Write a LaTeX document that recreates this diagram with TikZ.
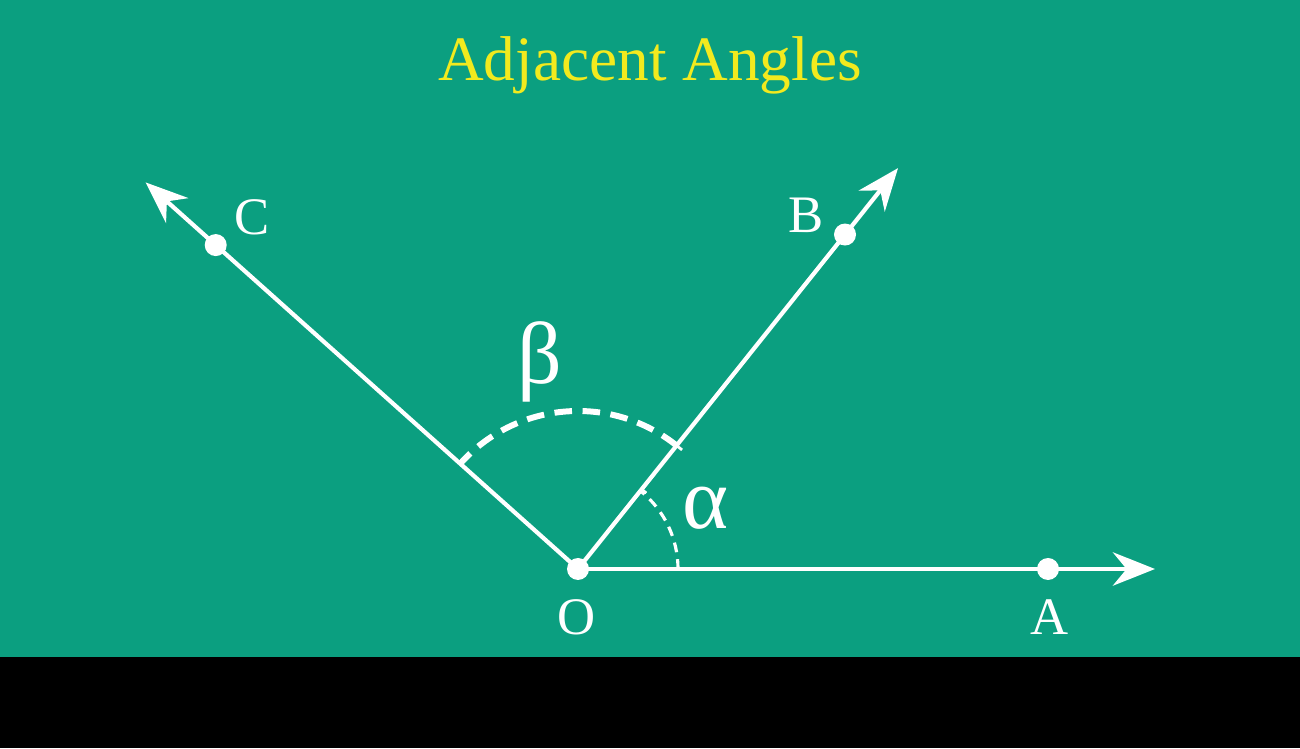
\documentclass[tikz,border=0pt]{standalone}
\usepackage{fontspec}
\setmainfont{Liberation Serif}
\usetikzlibrary{arrows.meta,calc}
\definecolor{boardgreen}{HTML}{0B9F80}
\definecolor{titleyellow}{HTML}{F2EA1E}
\tikzset{
    ray/.style={white, line width=1.2pt, -{Stealth[length=12pt,width=9.5pt]}},
    pt/.style={fill=white},
    lbl/.style={white, font=\fontsize{15}{15}\selectfont},
    greek/.style={white, font=\fontsize{25}{25}\selectfont},
}
\begin{document}
\begin{tikzpicture}
        \useasboundingbox (0,0) rectangle (13,7.48);
        \fill[boardgreen] (0,0.91) rectangle (13,7.48);
        \fill[black] (0,0) rectangle (13,0.91);
        \node[titleyellow, font=\fontsize{18}{18}\selectfont] (title) at (6.5,6.83) {Adjacent Angles};
        % rays from O
        \coordinate (O) at (5.78,1.79);
        \coordinate (A) at (10.48,1.79);
        \coordinate (B) at ($(O)+(51.4:4.28)$);
        \coordinate (C) at ($(O)+(138.2:4.86)$);
        \coordinate (Atip) at (11.55,1.79);
        \coordinate (Btip) at ($(O)+(51.4:5.13)$);
        \coordinate (Ctip) at ($(O)+(138.2:5.80)$);
        \draw[ray] (O) -- (Atip);
        \draw[ray] (O) -- (Btip);
        \draw[ray] (O) -- (Ctip);
        % angle arcs
        \draw[white, line width=0.9pt, dash pattern=on 2.8pt off 2pt] ($(O)+(1,0)$) arc (0:51.4:1);
        \draw[white, line width=1.7pt, dash pattern=on 5pt off 3pt] ($(O)+(51.4:1.58)$) arc (51.4:138.2:1.58);
        \draw[white, line width=0.8pt] ($(O)+(51.4:1.58)$) -- ++(-38.6:0.07);
        \draw[white, line width=0.8pt] ($(O)+(138.2:1.58)$) -- ++(48.2:0.07);
        \draw[white, line width=0.8pt] ($(O)+(51.4:1.02)$) -- ++(-38.6:0.06);
        % points
        \fill[pt] (O) circle (0.11);
        \fill[pt] (A) circle (0.11);
        \fill[pt] (B) circle (0.11);
        \fill[pt] (C) circle (0.11);
        \node[lbl] (Olbl) at (5.77,1.31) {O};
        \node[lbl] (Albl) at (10.50,1.31) {A};
        \node[lbl] (Blbl) at (8.06,5.33) {B};
        \node[lbl] (Clbl) at (2.52,5.31) {C};
        \node[greek] (beta) at (5.40,3.86) {β};
        \node[greek] (alpha) at (7.06,2.40) {α};
    \end{tikzpicture}
\end{document}
